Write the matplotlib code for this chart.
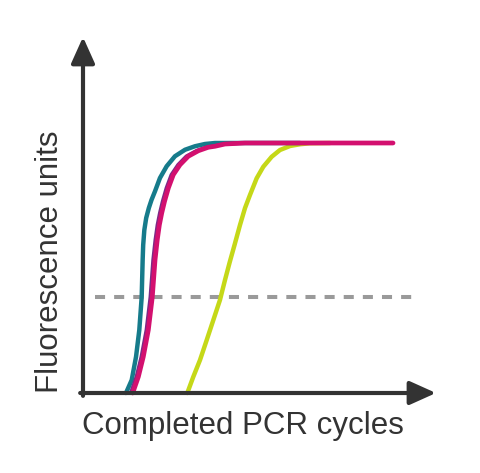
import matplotlib
matplotlib.use("Agg")
import matplotlib.pyplot as plt

# PCR amplification curves (cycle, fluorescence; plateau = 1)
teal_cycles = [4.87, 5.52, 6.01, 6.38, 6.65, 6.76, 6.82, 6.95, 7.16, 7.46, 7.76, 8.16, 8.72,
               9.48, 10.42, 11.56, 12.69, 13.82, 14.96, 24.59]
teal_fluor = [0.0, 0.052, 0.145, 0.252, 0.384, 0.532, 0.592, 0.652, 0.70, 0.74, 0.772, 0.807,
              0.86, 0.907, 0.947, 0.973, 0.987, 0.996, 1.0, 1.0]

magenta_cycles = [5.63, 6.27, 6.83, 7.40, 7.85, 8.16, 8.41, 8.65, 8.92, 9.24, 9.67, 10.23,
                  10.99, 11.93, 13.07, 14.20, 14.96, 16.09, 18.36, 35.13]
magenta_fluor = [0.0, 0.065, 0.145, 0.252, 0.384, 0.532, 0.612, 0.672, 0.72, 0.767, 0.82,
                 0.873, 0.913, 0.947, 0.969, 0.983, 0.987, 0.996, 1.0, 1.0]

purple_cycles = [5.41, 6.05, 6.61, 7.18, 7.63, 7.94, 8.19, 8.43, 8.70, 9.02, 9.45, 10.01,
                 10.77, 11.71, 12.85, 13.98, 14.74, 15.87, 18.14, 25.0]
purple_fluor = [0.0, 0.065, 0.145, 0.252, 0.384, 0.532, 0.612, 0.672, 0.72, 0.767, 0.82,
                0.873, 0.913, 0.947, 0.969, 0.983, 0.987, 0.996, 1.0, 1.0]

lime_cycles = [11.82, 12.50, 13.26, 14.02, 14.77, 15.52, 16.09, 16.63, 17.17, 17.79, 18.36,
               18.92, 19.68, 20.43, 21.38, 22.32, 23.46, 24.59, 25.72, 27.99]
lime_fluor = [0.0, 0.065, 0.132, 0.212, 0.292, 0.372, 0.452, 0.524, 0.592, 0.672, 0.74,
              0.792, 0.859, 0.905, 0.945, 0.972, 0.988, 0.995, 0.999, 1.0]

threshold = 0.384
threshold_span = [1.36, 38.08]

x_label = "Completed PCR cycles"
y_label = "Fluorescence units"

W, H = 480, 473
fig = plt.figure(figsize=(W / 100, H / 100), dpi=100)
ax = fig.add_axes([83 / W, (H - 393) / H, (436 - 83) / W, (393 - 37) / H])
ax.set_xlim(0, 40)
ax.set_ylim(0, 1.424)
ax.axis("off")

axis_color = "#333333"
ax.plot(threshold_span, [threshold, threshold], color="#9a9a9a", lw=2.9,
        dashes=(2.5, 2.25), solid_capstyle="butt", dash_capstyle="butt")

style = dict(solid_joinstyle="round", solid_capstyle="round", clip_on=False)
ax.plot(lime_cycles, lime_fluor, color="#c5d818", lw=3.2, **style)
ax.plot(teal_cycles, teal_fluor, color="#167b8b", lw=3.2, **style)
ax.plot(purple_cycles, purple_fluor, color="#7b2a86", lw=2.6, **style)
ax.plot(magenta_cycles, magenta_fluor, color="#d3106f", lw=3.4, **style)

arrow_props = dict(arrowstyle="-|>,head_length=0.8,head_width=0.36", lw=3,
                   color=axis_color, shrinkA=0, shrinkB=0, mutation_scale=20)
ax.annotate("", xy=(1, 0), xytext=(-0.008, 0), xycoords="axes fraction",
            textcoords="axes fraction", arrowprops=arrow_props, annotation_clip=False)
ax.annotate("", xy=(0, 1), xytext=(0, -0.008), xycoords="axes fraction",
            textcoords="axes fraction", arrowprops=arrow_props, annotation_clip=False)

fig.text(243 / W, 1 - 426 / H, x_label, ha="center", va="center",
         fontsize=22.5, family="Liberation Sans", color="#333333")
fig.text(50 / W, 1 - 262 / H, y_label, ha="center", va="center", rotation=90,
         fontsize=22.5, family="Liberation Sans", color="#333333")

fig.savefig("out.png", dpi=100)
